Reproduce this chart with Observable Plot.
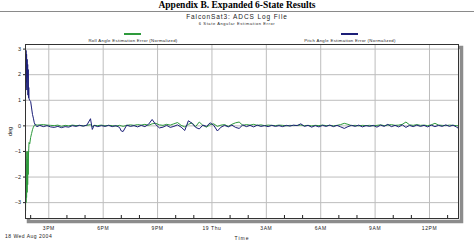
<!DOCTYPE html>
<html><head><meta charset="utf-8">
<script src="https://cdn.jsdelivr.net/npm/d3@7"></script>
<script src="https://cdn.jsdelivr.net/npm/@observablehq/plot@0.6"></script>
<style>
html,body{margin:0;padding:0;background:#fff;}
#wrap{position:relative;width:474px;height:243px;overflow:hidden;background:#fff;}
#wrap svg{position:absolute;left:0;top:0;}
.ov{position:absolute;z-index:2;white-space:nowrap;color:#222;font-family:"Liberation Sans",Arial,sans-serif;}
#title{left:0;width:474px;text-align:center;top:0px;line-height:10px;font:bold 9.5px "Liberation Serif",serif;color:#000;}
#rule{left:0;top:11px;width:474px;height:1px;background:#8a8a8a;}
#sub1{left:0;width:474px;text-align:center;top:13px;font-size:6.5px;line-height:8px;letter-spacing:0.9px;}
#sub2{left:0;width:474px;text-align:center;top:21px;font-size:4px;line-height:5px;letter-spacing:0.6px;}
.sw{position:absolute;z-index:2;height:2px;width:17px;top:32.5px;}
.lg{top:37.5px;font-size:4.3px;line-height:6px;letter-spacing:0.3px;transform:translateX(-50%);}
#date{left:5px;top:233px;font-size:5px;line-height:6px;letter-spacing:0.5px;}
svg [aria-label="x-axis tick label"] text{letter-spacing:0.6px;}
svg [aria-label="x-axis label"] text{letter-spacing:1px;}
</style>
</head><body>
<div id="wrap">
  <div id="title" class="ov">Appendix B. Expanded 6-State Results</div>
  <div id="rule" class="ov"></div>
  <div id="sub1" class="ov">FalconSat3: ADCS Log File</div>
  <div id="sub2" class="ov">6 State Angular Estimation Error</div>
  <div class="sw" style="left:124px;background:#2e9a3c"></div>
  <div class="ov lg" style="left:133px">Roll Angle Estimation Error (Normalized)</div>
  <div class="sw" style="left:341px;background:#1c1f78"></div>
  <div class="ov lg" style="left:350px">Pitch Angle Estimation Error (Normalized)</div>
  <div id="date" class="ov">18 Wed Aug 2004</div>
</div>
<script>
// hours since 18 Aug 2004 00:00
const hours = [13.72,13.73,13.745,13.76,13.775,13.79,13.805,13.82,13.835,13.85,13.865,13.88,13.895,13.91,13.95,14.0,14.05,14.1,14.15,14.2,14.27,14.35,
14.5,14.7,14.9,15.1,15.3,15.5,15.7,15.9,16.1,16.3,16.5,16.7,16.9,17.1,17.3,17.4,17.5,17.7,17.9,18.1,18.3,18.5,18.7,18.9,19.0,19.1,19.3,19.5,19.7,19.9,
20.1,20.3,20.5,20.7,20.9,21.1,21.3,21.5,21.7,21.9,22.1,22.3,22.5,22.7,22.9,23.1,23.3,23.5,23.7,23.9,24.1,24.3,24.5,24.7,24.9,25.1,25.3,25.5,25.7,25.9,
26.1,26.3,26.5,26.7,26.9,27.1,27.3,27.5,27.7,27.9,28.1,28.3,28.5,28.7,28.9,29.1,29.3,29.5,29.7,29.9,30.1,30.3,30.5,30.7,30.9,31.1,31.3,31.5,31.7,31.9,
32.1,32.3,32.5,32.7,32.9,33.1,33.3,33.5,33.7,33.9,34.1,34.3,34.5,34.7,34.9,35.1,35.3,35.5,35.7,35.9,36.1,36.3,36.5,36.7,36.9,37.1,37.3,37.5,37.6];
const pitch = [2.9,1.5,2.95,1.7,2.8,1.4,2.6,1.9,2.4,1.2,2.2,1.1,1.5,1.05,1.0,0.95,0.7,0.45,0.3,0.12,0.02,-0.03,
0.02,-0.03,0.01,-0.04,-0.06,-0.02,-0.07,-0.03,-0.05,0.01,-0.02,0.02,-0.01,0.03,0.28,-0.14,0.02,-0.03,0.01,-0.02,0.02,-0.03,0.01,-0.06,-0.2,-0.22,0.03,-0.02,0.01,-0.04,
0.02,-0.03,0.06,0.25,0.05,-0.08,-0.05,0.02,-0.06,-0.02,0.04,-0.05,-0.18,0.2,0.1,-0.06,-0.12,0.03,-0.02,0.12,0.02,-0.2,-0.05,0.02,-0.04,0.03,-0.06,-0.1,0.04,-0.03,
0.02,-0.04,0.03,-0.02,0.01,-0.03,0.02,-0.02,0.01,-0.03,0.02,-0.01,0.03,0.01,0.08,-0.02,0.02,-0.05,0.01,-0.04,0.02,-0.02,0.03,-0.03,0.02,-0.04,-0.1,-0.03,0.02,-0.02,
0.03,-0.04,0.01,-0.02,0.02,-0.05,0.03,-0.02,0.06,-0.03,0.02,-0.04,0.04,-0.06,0.02,-0.03,0.03,-0.02,0.02,-0.04,0.03,-0.03,0.02,-0.02,0.04,-0.02,0.03,-0.05,-0.1];
const roll = [-3.3,-1.2,-3.0,-1.5,-2.8,-1.0,-2.6,-1.3,-2.3,-1.0,-1.9,-1.1,-0.9,-0.65,-0.7,-0.45,-0.3,-0.15,-0.05,0.02,0.05,0.03,
0.04,0.05,0.03,0.02,0.01,0.03,-0.02,0.02,0.0,0.03,0.01,0.02,0.0,0.02,0.05,-0.03,0.02,0.01,0.03,0.0,0.02,0.01,-0.01,0.02,0.0,-0.02,0.02,0.04,0.02,0.05,
0.03,0.06,0.02,0.08,0.1,0.04,0.02,0.06,0.03,0.08,0.13,0.02,-0.04,0.06,0.12,-0.03,0.15,0.02,-0.05,0.05,0.08,-0.02,0.03,0.05,-0.02,0.06,0.12,0.15,0.02,0.05,
0.03,0.06,0.02,0.04,0.01,0.03,0.02,0.01,0.03,0.02,0.0,0.02,0.01,0.02,0.03,0.01,0.02,0.0,0.02,0.01,0.03,0.01,0.02,0.0,0.02,0.05,0.1,0.06,0.01,0.02,
0.0,0.02,0.01,0.02,0.0,0.02,0.04,0.01,0.03,0.05,0.02,0.03,0.06,0.15,0.04,0.02,0.05,0.02,0.03,0.01,0.04,0.1,0.03,0.02,0.01,0.03,0.02,0.01,0.0];
const majorHours = [15,18,21,24,27,30,33,36];
const majorLabels = ["3PM","6PM","9PM","19 Thu","3AM","6AM","9AM","12PM"];
const minorHours = [14,16,17,19,20,22,23,25,26,28,29,31,32,34,35,37];
const yTicks = [-3,-2,-1,0,1,2,3];
const xStartHour = 13.715, xEndHour = 37.6;
const yMin = -3.62, yMax = 3.18;

const base = Date.UTC(2004, 7, 18);
const toDate = h => new Date(base + h * 3600e3);
const rows = hours.map((h, i) => ({t: toDate(h), pitch: pitch[i], roll: roll[i]}));
const majorDates = majorHours.map(toDate);
const minorDates = minorHours.map(toDate);
const labelOf = new Map(majorDates.map((d, i) => [+d, majorLabels[i]]));

const chart = Plot.plot({
  width: 474, height: 243,
  marginTop: 44, marginBottom: 25, marginLeft: 25, marginRight: 16,
  style: {background: "transparent", fontFamily: "'Liberation Sans',Arial,sans-serif", fontSize: "5px", color: "#222"},
  x: {type: "utc", domain: [toDate(xStartHour), toDate(xEndHour)]},
  y: {domain: [yMin, yMax]},
  marks: [
    Plot.frame({stroke: "#8c8c8c", strokeWidth: 3.5, dx: 3, dy: 3}),
    Plot.frame({fill: "white", stroke: null}),
    Plot.gridX(majorDates, {stroke: "#bdbdbd", strokeOpacity: 1}),
    Plot.gridY(yTicks, {stroke: "#bdbdbd", strokeOpacity: 1}),
    Plot.line(rows, {x: "t", y: "roll", stroke: "#2e9a3c", strokeWidth: 1}),
    Plot.line(rows, {x: "t", y: "pitch", stroke: "#1c1f78", strokeWidth: 1}),
    Plot.frame({stroke: "#333", strokeWidth: 1}),
    Plot.axisY(yTicks, {tickSize: 2, tickPadding: 2.5, fontSize: 5.5, label: "deg", labelAnchor: "center", labelArrow: "none", labelOffset: 17}),
    Plot.axisX(majorDates, {tickSize: 0, tickPadding: 8, fontSize: 5, tickFormat: d => labelOf.get(+d), label: "Time", labelAnchor: "center", labelArrow: "none", labelOffset: 21}),
    Plot.axisX(minorDates, {tickSize: 3, dy: -3, text: null, label: null})
  ]
});
document.getElementById("wrap").appendChild(chart);
</script>
</body></html>
